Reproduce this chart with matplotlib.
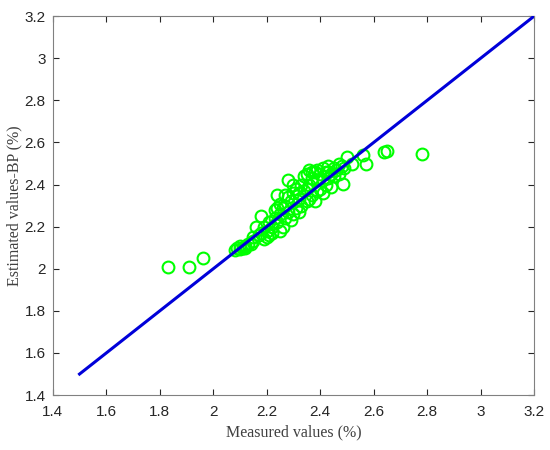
import matplotlib
matplotlib.use('Agg')
import matplotlib.pyplot as plt

# measured vs estimated (%)
measured = [1.83, 1.91, 1.96, 2.64, 2.65, 2.78, 2.56, 2.57, 2.50, 2.52, 2.485,
            2.08, 2.09, 2.10, 2.11, 2.12, 2.13, 2.14, 2.15, 2.10, 2.12, 2.15, 2.16,
            2.17, 2.18, 2.18, 2.19, 2.20, 2.20, 2.21, 2.22, 2.22, 2.23, 2.24, 2.25,
            2.25, 2.26, 2.27, 2.27, 2.28, 2.28, 2.29, 2.30, 2.30, 2.31, 2.31, 2.32,
            2.32, 2.33, 2.33, 2.34, 2.34, 2.35, 2.35, 2.36, 2.36, 2.37, 2.37, 2.38,
            2.38, 2.39, 2.39, 2.40, 2.40, 2.41, 2.41, 2.42, 2.42, 2.43, 2.43, 2.44,
            2.44, 2.45, 2.46, 2.47, 2.47, 2.48, 2.49, 2.24, 2.25, 2.26, 2.29, 2.23,
            2.21, 2.19, 2.24, 2.28, 2.30, 2.35, 2.37, 2.39, 2.41, 2.43, 2.45, 2.36,
            2.32, 2.27]
estimated = [2.01, 2.01, 2.05, 2.555, 2.56, 2.545, 2.54, 2.50, 2.53, 2.50, 2.405,
             2.09, 2.10, 2.095, 2.10, 2.11, 2.12, 2.12, 2.13, 2.11, 2.10, 2.15, 2.20,
             2.16, 2.17, 2.25, 2.20, 2.15, 2.18, 2.22, 2.17, 2.20, 2.24, 2.22, 2.18,
             2.26, 2.29, 2.24, 2.30, 2.42, 2.27, 2.32, 2.26, 2.36, 2.29, 2.38, 2.27,
             2.33, 2.40, 2.30, 2.37, 2.44, 2.32, 2.45, 2.40, 2.47, 2.35, 2.43, 2.46,
             2.32, 2.42, 2.47, 2.38, 2.45, 2.36, 2.48, 2.40, 2.46, 2.43, 2.49, 2.45,
             2.39, 2.48, 2.47, 2.50, 2.45, 2.49, 2.48, 2.35, 2.31, 2.20, 2.23, 2.28,
             2.16, 2.14, 2.29, 2.34, 2.40, 2.38, 2.46, 2.37, 2.42, 2.46, 2.44, 2.33,
             2.36, 2.35]

line_x = [1.5, 3.2]
line_y = [1.5, 3.2]
ticks = [1.4, 1.6, 1.8, 2.0, 2.2, 2.4, 2.6, 2.8, 3.0, 3.2]
tick_labels = ['1.4', '1.6', '1.8', '2', '2.2', '2.4', '2.6', '2.8', '3', '3.2']

fig = plt.figure(figsize=(5.5, 4.5), dpi=100)
ax = fig.add_axes([0.096, 0.122, 0.875, 0.842])

ax.plot(measured, estimated, 'o', markerfacecolor='none', markeredgecolor=(0, 1, 0),
        markersize=8.5, markeredgewidth=1.5, zorder=2)
ax.plot(line_x, line_y, color=(0, 0, 0.85), linewidth=2.2, zorder=3)

ax.set_xlim(1.4, 3.2)
ax.set_ylim(1.4, 3.2)
ax.set_xticks(ticks)
ax.set_xticklabels(tick_labels)
ax.set_yticks(ticks)
ax.set_yticklabels(tick_labels)
ax.tick_params(direction='in', length=4, width=0.8, colors='#262626', labelsize=11,
               top=True, right=True, labeltop=False, labelright=False)
ax.tick_params(axis='x', pad=7)
ax.tick_params(axis='y', pad=5)
for lab in ax.get_xticklabels() + ax.get_yticklabels():
    lab.set_fontfamily('Liberation Sans')
for sp in ax.spines.values():
    sp.set_color('#808080')
    sp.set_linewidth(0.8)

ax.set_xlabel('Measured values (%)', family='Liberation Serif', fontsize=11.5,
              color='#404040', labelpad=4)
ax.set_ylabel('Estimated values-BP (%)', family='Liberation Serif', fontsize=11.5,
              color='#404040', labelpad=2)

fig.savefig('out.png', dpi=100)
